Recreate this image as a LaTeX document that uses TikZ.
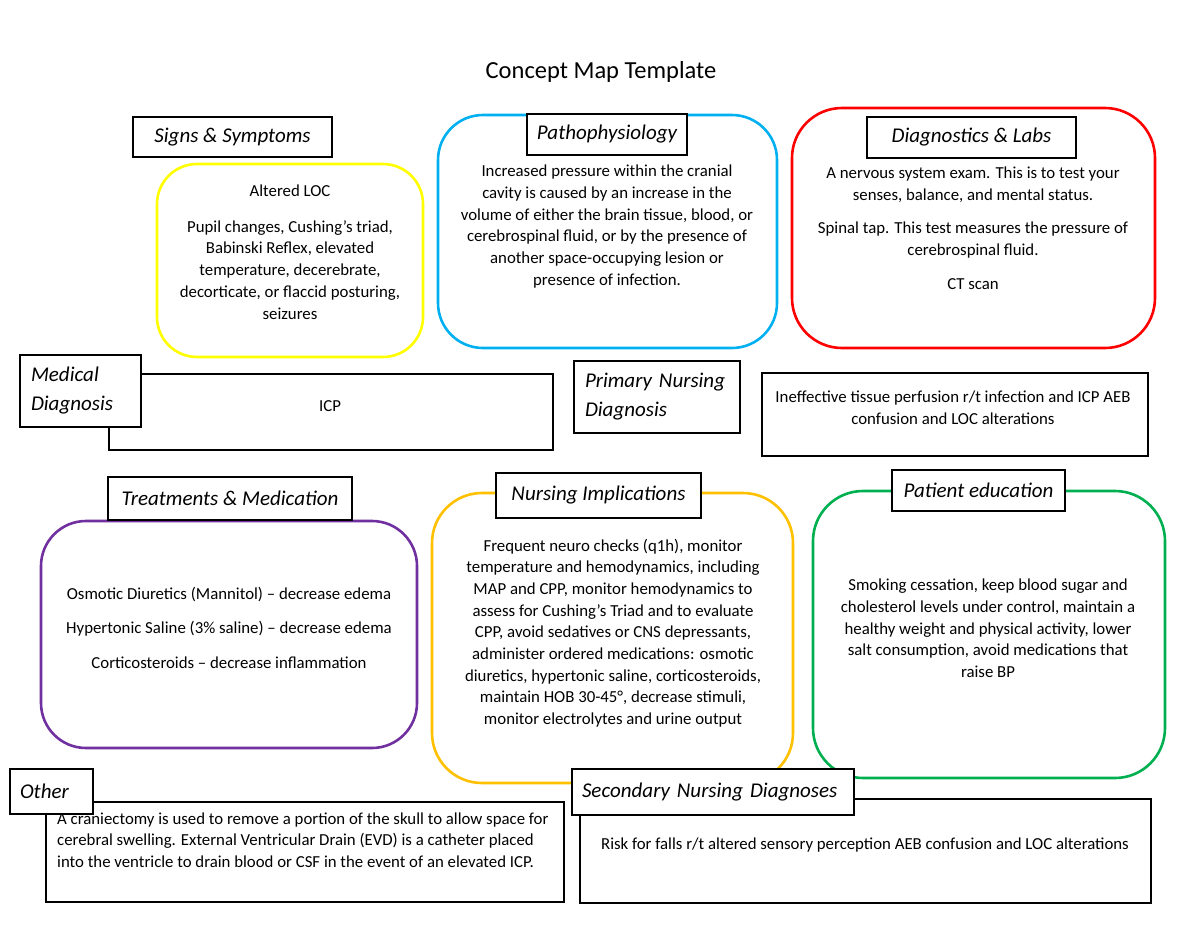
\documentclass[tikz,border=0pt]{standalone}
\usepackage{fontspec}
\setmainfont{Carlito}
\newfontfamily\handfont{Carlito}
\newcommand\mylblfont{\handfont\itshape\fontsize{21}{29}\selectfont\hyphenpenalty=10000\relax\exhyphenpenalty=10000\relax}
\definecolor{cyellow}{HTML}{FFFF00}
\definecolor{cblue}{HTML}{00B0F0}
\definecolor{cred}{HTML}{FF0000}
\definecolor{cpurple}{HTML}{7030A0}
\definecolor{corange}{HTML}{FFC000}
\definecolor{cgreen}{HTML}{00B050}
\tikzset{
  rbox/.style={draw, line width=2.6pt, inner sep=0pt},
  pbox/.style={draw, line width=2pt, inner sep=0pt},
  lbl/.style={draw, line width=2pt, fill=white, inner sep=0pt, font=\mylblfont},
  body/.style={align=center, inner sep=0pt, font=\fontsize{16.8}{21.7}\selectfont},
}
\begin{document}
\begin{tikzpicture}[x=1pt,y=-1pt]
\useasboundingbox (0,0) rectangle (1200,927);
\fill[white] (0,0) rectangle (1200,927);

\node[inner sep=0pt, font=\fontsize{24.5}{28}\selectfont] (title) at (601,72) {Concept Map Template};

% rounded boxes
\node[rbox, draw=cyellow, rounded corners=40pt, minimum width=266pt, minimum height=193pt] (ss) at (290,260.5) {};
\node[rbox, draw=cblue, rounded corners=45pt, minimum width=339pt, minimum height=233pt] (pp) at (607.5,231.5) {};
\node[rbox, draw=cred, rounded corners=50pt, minimum width=363pt, minimum height=240pt] (dl) at (973.5,228) {};
\node[rbox, draw=cpurple, rounded corners=45pt, minimum width=376pt, minimum height=227pt] (tm) at (229,634.5) {};
\node[rbox, draw=corange, rounded corners=50pt, minimum width=361pt, minimum height=290pt] (ni) at (612.5,638) {};
\node[rbox, draw=cgreen, rounded corners=50pt, minimum width=352pt, minimum height=287pt] (pe) at (989,634.5) {};

% plain boxes
\node[pbox, minimum width=444pt, minimum height=76pt] (md) at (331,412) {};
\node[pbox, minimum width=386pt, minimum height=83pt] (pn) at (955,414.5) {};
\node[pbox, minimum width=518pt, minimum height=100pt] (ot) at (305,852) {};
\node[pbox, minimum width=571pt, minimum height=104pt] (sn) at (865.5,851) {};

% labels
\node[lbl, minimum width=199pt, minimum height=40pt] (lss) at (232.5,137) {Signs \& Symptoms};
\node[lbl, minimum width=160pt, minimum height=41pt] (lpp) at (607,134.5) {Pathophysiology};
\node[lbl, minimum width=209pt, minimum height=41pt] (ldl) at (971.5,137.5) {Diagnostics \& Labs};
\node[lbl, minimum width=121pt, minimum height=72pt, align=left, text width=99pt] (lmd) at (80.5,391) {Medical\\Diagnosis};
\node[lbl, minimum width=166pt, minimum height=72pt, align=left, text width=144pt] (lpn) at (657,397) {Primary Nursing\\Diagnosis};
\node[lbl, minimum width=244pt, minimum height=43pt] (ltm) at (230,498.5) {Treatments \& Medication};
\node[lbl, minimum width=205pt, minimum height=45pt] (lni) at (598.5,495.5) {Nursing Implications};
\node[lbl, minimum width=173pt, minimum height=41pt] (lpe) at (978.5,490.5) {Patient education};
\node[lbl, minimum width=282pt, minimum height=46pt, align=left, text width=262pt] (lsn) at (713,792) {Secondary Nursing Diagnoses};

% texts
\node[body] (tss) at (290,252) {Altered LOC\\[14pt]
Pupil changes, Cushing’s triad,\\
Babinski Reflex, elevated\\
temperature, decerebrate,\\
decorticate, or flaccid posturing,\\
seizures};
\node[body] (tpp) at (607,226.5) {Increased pressure within the cranial\\
cavity is caused by an increase in the\\
volume of either the brain tissue, blood, or\\
cerebrospinal fluid, or by the presence of\\
another space-occupying lesion or\\
presence of infection.};
\node[body] (tdl) at (973,228) {A nervous system exam. This is to test your\\
senses, balance, and mental status.\\[12pt]
Spinal tap. This test measures the pressure of\\
cerebrospinal fluid.\\[12pt]
CT scan};
\node[body] (tmd) at (330,406) {ICP};
\node[body] (tpn) at (953,408) {Ineffective tissue perfusion r/t infection and ICP AEB\\
confusion and LOC alterations};
\node[body] (ttm) at (229,627.5) {Osmotic Diuretics (Mannitol) – decrease edema\\[12.8pt]
Hypertonic Saline (3\% saline) – decrease edema\\[12.8pt]
Corticosteroids – decrease inflammation};
\node[body] (tni) at (613,633) {Frequent neuro checks (q1h), monitor\\
temperature and hemodynamics, including\\
MAP and CPP, monitor hemodynamics to\\
assess for Cushing’s Triad and to evaluate\\
CPP, avoid sedatives or CNS depressants,\\
administer ordered medications: osmotic\\
diuretics, hypertonic saline, corticosteroids,\\
maintain HOB 30-45°, decrease stimuli,\\
monitor electrolytes and urine output};
\node[body] (tpe) at (988,628.5) {Smoking cessation, keep blood sugar and\\
cholesterol levels under control, maintain a\\
healthy weight and physical activity, lower\\
salt consumption, avoid medications that\\
raise BP};
\node[body, align=left, anchor=west] (tot) at (57,840) {A craniectomy is used to remove a portion of the skull to allow space for\\
cerebral swelling. External Ventricular Drain (EVD) is a catheter placed\\
into the ventricle to drain blood or CSF in the event of an elevated ICP.};
\node[body] (tsn) at (865,845) {Risk for falls r/t altered sensory perception AEB confusion and LOC alterations};

% label "Other" drawn over the text, as in the reference
\node[lbl, minimum width=83pt, minimum height=45pt, align=left, text width=67pt] (lot) at (51.5,791.5) {\hspace*{2pt}Other};
\end{tikzpicture}
\end{document}
